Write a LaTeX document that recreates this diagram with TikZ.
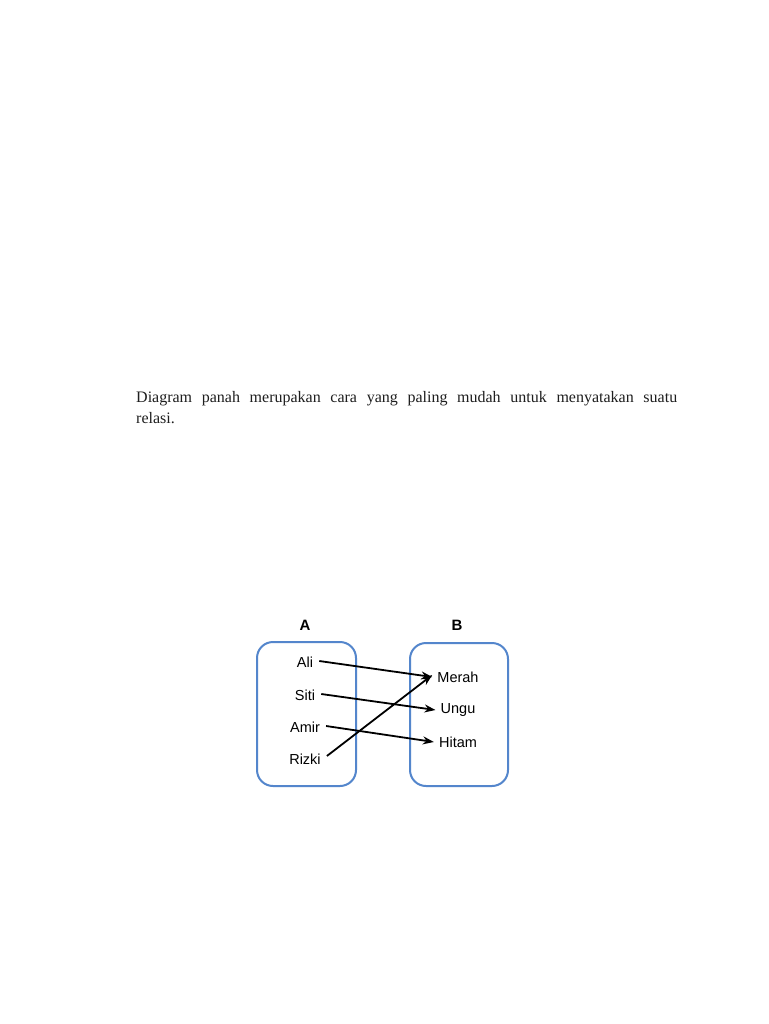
\documentclass[tikz,border=0pt]{standalone}
\usepackage{fontspec}
\setmainfont{Liberation Serif}
\newfontfamily\lblfont{Liberation Sans}
\usetikzlibrary{arrows.meta}
\definecolor{setblue}{RGB}{84,134,204}
\definecolor{inktext}{RGB}{30,30,30}
\begin{document}
\begin{tikzpicture}[x=1pt,y=-1pt,
  setbox/.style={draw=setblue,line width=2pt,rounded corners=16pt},
  elem/.style={font=\lblfont\fontsize{14.5}{16}\selectfont,inner sep=0pt},
  head/.style={font=\lblfont\bfseries\fontsize{15}{16}\selectfont,inner sep=0pt},
  rel/.style={line width=1.8pt,-{Stealth[length=11pt,width=8pt]}},
  para/.style={font=\fontsize{16}{21}\selectfont,text=inktext,inner sep=0pt,anchor=base west}]
\useasboundingbox[fill=white] (0,0) rectangle (768,1024);
\node[para] (l1) at (136,402) {\makebox[541pt][s]{Diagram panah merupakan cara yang paling mudah untuk menyatakan suatu}};
\node[para] (l2) at (136,423) {relasi.};
\draw[setbox] (257,642) rectangle (356,786);
\draw[setbox] (410,643) rectangle (508,786);
\node[head] (A) at (305,625) {A};
\node[head] (B) at (457,625) {B};
\node[elem] (ali) at (305,662) {Ali};
\node[elem] (siti) at (305,695) {Siti};
\node[elem] (amir) at (305,727) {Amir};
\node[elem] (rizki) at (305,759) {Rizki};
\node[elem] (merah) at (458,677) {Merah};
\node[elem] (ungu) at (458,710) {Ungu};
\node[elem] (hitam) at (458,742) {Hitam};
\draw[rel] ([xshift=6pt,yshift=1pt]ali.east) -- ([xshift=-5pt]merah.west);
\draw[rel] ([xshift=6pt,yshift=1pt]siti.east) -- ([xshift=-5pt]ungu.west);
\draw[rel] ([xshift=6pt,yshift=1pt]amir.east) -- ([xshift=-5pt]hitam.west);
\draw[rel] ([xshift=6pt,yshift=3pt]rizki.east) -- ([xshift=-5pt,yshift=2pt]merah.west);
\end{tikzpicture}
\end{document}
